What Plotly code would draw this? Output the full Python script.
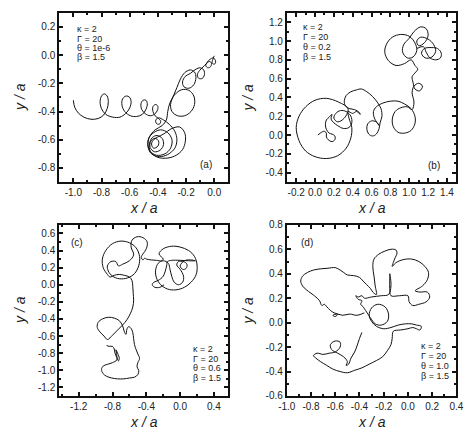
import plotly.graph_objects as go
from plotly.subplots import make_subplots

W, H = 474, 437

# ---------------- data ----------------
traj_a = [(-1.00,-0.32),(-0.99,-0.37),(-0.965,-0.41),(-0.925,-0.44),(-0.875,-0.455),(-0.825,-0.45),(-0.785,-0.425),
(-0.76,-0.38),(-0.752,-0.33),(-0.76,-0.29),(-0.78,-0.275),(-0.80,-0.29),(-0.81,-0.33),(-0.80,-0.38),(-0.77,-0.42),
(-0.72,-0.44),(-0.67,-0.44),(-0.63,-0.415),(-0.60,-0.375),(-0.59,-0.33),(-0.60,-0.30),(-0.625,-0.29),(-0.65,-0.31),
(-0.655,-0.355),(-0.635,-0.40),(-0.595,-0.43),(-0.55,-0.435),(-0.51,-0.42),(-0.485,-0.385),(-0.475,-0.345),(-0.485,-0.32),
(-0.505,-0.32),(-0.52,-0.345),(-0.515,-0.385),(-0.49,-0.415),(-0.455,-0.43),(-0.425,-0.42),(-0.405,-0.395),(-0.40,-0.365),
(-0.415,-0.35),(-0.435,-0.365),(-0.435,-0.40),(-0.42,-0.43),(-0.395,-0.45),(-0.38,-0.47),(-0.39,-0.49),(-0.41,-0.485),
(-0.415,-0.46),(-0.395,-0.445),(-0.36,-0.46),(-0.32,-0.49),(-0.28,-0.54),(-0.265,-0.60),(-0.28,-0.66),(-0.33,-0.705),
(-0.39,-0.72),(-0.445,-0.70),(-0.47,-0.65),(-0.465,-0.59),(-0.43,-0.55),(-0.38,-0.53),(-0.33,-0.55),(-0.30,-0.60),
(-0.31,-0.66),(-0.35,-0.70),(-0.41,-0.71),(-0.455,-0.68),(-0.46,-0.63),(-0.44,-0.585),(-0.405,-0.57),(-0.37,-0.59),
(-0.36,-0.635),(-0.385,-0.675),(-0.425,-0.685),(-0.455,-0.655),(-0.45,-0.61),(-0.42,-0.59),(-0.395,-0.61),(-0.40,-0.645),
(-0.43,-0.66),(-0.445,-0.63),(-0.43,-0.60),(-0.40,-0.58),(-0.36,-0.56),(-0.30,-0.52),(-0.245,-0.51),(-0.21,-0.55),
(-0.205,-0.61),(-0.225,-0.67),(-0.27,-0.71),(-0.33,-0.73),(-0.40,-0.725),(-0.45,-0.69),(-0.47,-0.64),(-0.46,-0.58),
(-0.42,-0.53),(-0.37,-0.50),(-0.34,-0.46),(-0.33,-0.40),(-0.315,-0.34),(-0.28,-0.28),(-0.23,-0.245),(-0.18,-0.25),
(-0.145,-0.29),(-0.14,-0.35),(-0.165,-0.40),(-0.21,-0.43),(-0.26,-0.43),(-0.30,-0.40),(-0.31,-0.35),(-0.29,-0.29),
(-0.265,-0.23),(-0.24,-0.17),(-0.21,-0.125),(-0.17,-0.105),(-0.14,-0.12),(-0.13,-0.16),(-0.145,-0.21),(-0.18,-0.235),
(-0.215,-0.225),(-0.225,-0.19),(-0.205,-0.15),(-0.17,-0.13),(-0.13,-0.10),(-0.10,-0.09),(-0.075,-0.105),(-0.07,-0.14),
(-0.085,-0.165),(-0.11,-0.165),(-0.12,-0.14),(-0.105,-0.11),(-0.08,-0.085),(-0.055,-0.06),(-0.035,-0.045),(-0.02,-0.055),
(-0.025,-0.08),(-0.045,-0.09),(-0.06,-0.075),(-0.05,-0.05),(-0.03,-0.03),(-0.01,-0.02),(0.005,-0.03),(0.01,-0.05),
(0.0,-0.065),(-0.015,-0.055),(-0.01,-0.03),(0.0,-0.005)]

traj_b = [(0.03,0.0),(0.07,0.03),(0.10,0.04),(0.12,0.02),(0.12,-0.02),(0.14,-0.05),(0.18,-0.07),(0.21,-0.05),(0.21,-0.01),
(0.18,0.01),(0.15,0.02),(0.12,0.06),(0.11,0.11),(0.12,0.16),(0.15,0.19),(0.18,0.22),(0.17,0.17),(0.20,0.13),(0.24,0.10),
(0.30,0.07),(0.36,0.08),(0.39,0.13),(0.38,0.20),(0.33,0.25),(0.27,0.26),(0.22,0.23),(0.20,0.18),(0.24,0.14),(0.31,0.18),
(0.35,0.28),(0.25,0.35),(0.12,0.39),(0.0,0.37),(-0.10,0.30),(-0.17,0.20),(-0.20,0.08),(-0.17,-0.06),(-0.10,-0.17),
(0.0,-0.23),(0.12,-0.25),(0.24,-0.22),(0.33,-0.14),(0.38,-0.03),(0.39,0.08),(0.36,0.18),(0.35,0.25),(0.40,0.23),
(0.44,0.25),(0.48,0.22),(0.47,0.24),(0.42,0.27),(0.37,0.28),(0.33,0.30),(0.31,0.35),(0.33,0.42),(0.38,0.46),(0.44,0.48),
(0.49,0.49),(0.55,0.46),(0.61,0.41),(0.66,0.35),(0.70,0.28),(0.71,0.20),(0.69,0.13),(0.68,0.07),(0.65,0.01),(0.61,-0.01),
(0.57,0.01),(0.55,0.06),(0.56,0.12),(0.60,0.15),(0.65,0.14),(0.68,0.10),(0.63,0.18),(0.62,0.25),(0.65,0.30),(0.72,0.34),
(0.80,0.36),(0.88,0.36),(0.95,0.33),(1.02,0.28),(1.06,0.20),(1.06,0.12),(1.02,0.05),(0.95,0.02),(0.88,0.03),(0.83,0.09),
(0.82,0.17),(0.85,0.25),(0.91,0.29),(0.98,0.30),(1.03,0.27),(1.05,0.35),(1.03,0.45),(1.05,0.52),(1.10,0.55),(1.14,0.52),
(1.11,0.47),(1.06,0.49),(1.04,0.56),(1.03,0.62),(1.06,0.66),(1.09,0.70),(1.06,0.74),(1.02,0.80),(0.95,0.76),(0.86,0.74),
(0.78,0.79),(0.74,0.88),(0.76,0.97),(0.82,1.04),(0.91,1.07),(1.00,1.05),(1.06,0.98),(1.08,0.90),(1.04,0.83),(0.98,0.82),
(0.93,0.88),(0.94,0.96),(1.00,1.03),(1.05,1.10),(1.12,1.15),(1.18,1.13),(1.20,1.06),(1.16,0.98),(1.10,0.95),(1.08,1.00),
(1.12,1.04),(1.20,1.02),(1.26,0.96),(1.28,0.89),(1.24,0.83),(1.17,0.82),(1.13,0.87),(1.16,0.92),(1.24,0.93),(1.30,0.92),
(1.34,0.87),(1.33,0.82),(1.28,0.80),(1.22,0.82),(1.18,0.88),(1.15,0.94),(1.08,0.92)]

traj_c = [(-0.87,-0.71),(-0.84,-0.72),(-0.80,-0.72),(-0.78,-0.75),(-0.77,-0.80),(-0.75,-0.85),(-0.73,-0.89),(-0.72,-0.86),
(-0.74,-0.80),(-0.76,-0.76),(-0.75,-0.82),(-0.75,-0.88),(-0.80,-0.91),(-0.86,-0.93),(-0.91,-0.95),(-0.93,-0.99),
(-0.91,-1.04),(-0.87,-1.07),(-0.81,-1.09),(-0.74,-1.10),(-0.67,-1.10),(-0.60,-1.09),(-0.54,-1.08),(-0.50,-1.05),
(-0.49,-1.00),(-0.51,-0.96),(-0.50,-0.91),(-0.48,-0.86),(-0.50,-0.81),(-0.52,-0.76),(-0.54,-0.70),(-0.55,-0.63),
(-0.56,-0.56),(-0.58,-0.51),(-0.61,-0.49),(-0.63,-0.52),(-0.64,-0.58),(-0.66,-0.55),(-0.68,-0.48),(-0.72,-0.42),
(-0.78,-0.39),(-0.85,-0.38),(-0.92,-0.40),(-0.97,-0.44),(-0.98,-0.50),(-0.95,-0.55),(-0.90,-0.60),(-0.86,-0.64),
(-0.80,-0.59),(-0.74,-0.53),(-0.68,-0.47),(-0.63,-0.41),(-0.59,-0.34),(-0.56,-0.26),(-0.55,-0.18),(-0.555,-0.10),
(-0.56,-0.02),(-0.57,0.05),(-0.60,0.09),(-0.66,0.11),(-0.72,0.12),(-0.78,0.11),(-0.83,0.09),(-0.86,0.12),(-0.91,0.20),
(-0.92,0.30),(-0.88,0.40),(-0.80,0.48),(-0.70,0.51),(-0.60,0.49),(-0.52,0.43),(-0.48,0.33),(-0.49,0.22),(-0.54,0.13),
(-0.62,0.08),(-0.72,0.07),(-0.80,0.10),(-0.85,0.16),(-0.86,0.22),(-0.82,0.27),(-0.76,0.27),(-0.73,0.22),(-0.68,0.24),
(-0.60,0.28),(-0.55,0.35),(-0.58,0.44),(-0.57,0.52),(-0.51,0.56),(-0.44,0.55),(-0.39,0.50),(-0.40,0.42),(-0.44,0.36),
(-0.46,0.32),(-0.44,0.29),(-0.42,0.31),(-0.40,0.30),(-0.34,0.29),(-0.28,0.285),(-0.22,0.28),(-0.20,0.30),(-0.25,0.36),
(-0.20,0.42),(-0.10,0.45),(0.0,0.44),(0.10,0.40),(0.17,0.33),(0.20,0.23),(0.19,0.12),(0.13,0.03),(0.05,-0.03),
(-0.05,-0.06),(-0.15,-0.05),(-0.23,0.0),(-0.28,0.08),(-0.29,0.17),(-0.26,0.25),(-0.20,0.28),(-0.14,0.25),(-0.12,0.18),
(-0.10,0.10),(-0.07,0.03),(-0.02,0.0),(0.03,0.03),(0.04,0.10),(0.0,0.18),(-0.04,0.23),(-0.02,0.27),(0.04,0.27),
(0.08,0.24),(0.07,0.19),(0.03,0.18),(0.0,0.22),(0.05,0.28),(0.12,0.29),(0.18,0.28),(0.10,0.28),(0.0,0.285),(-0.10,0.285),
(-0.15,0.27),(-0.16,0.22),(-0.20,0.10),(-0.26,0.05),(-0.31,0.03),(-0.33,0.0),(-0.30,-0.03),(-0.24,-0.03),(-0.19,0.0)]

traj_d = [(-0.36,0.08),(-0.42,0.06),(-0.48,0.07),(-0.54,0.06),(-0.58,0.07),(-0.62,0.06),(-0.60,0.05),(-0.58,0.07),
(-0.61,0.08),(-0.64,0.10),(-0.67,0.13),(-0.69,0.15),(-0.71,0.14),(-0.73,0.18),(-0.76,0.21),(-0.80,0.24),(-0.84,0.27),
(-0.87,0.30),(-0.885,0.34),(-0.87,0.38),(-0.83,0.41),(-0.78,0.43),(-0.72,0.44),(-0.66,0.445),(-0.60,0.45),(-0.56,0.43),
(-0.53,0.41),(-0.50,0.39),(-0.45,0.385),(-0.40,0.37),(-0.37,0.34),(-0.34,0.31),(-0.31,0.28),(-0.29,0.25),(-0.26,0.23),
(-0.27,0.30),(-0.28,0.38),(-0.29,0.46),(-0.28,0.52),(-0.24,0.56),(-0.19,0.585),(-0.14,0.60),(-0.10,0.595),(-0.09,0.57),
(-0.11,0.52),(-0.13,0.46),(-0.10,0.49),(-0.04,0.515),(0.03,0.52),(0.09,0.50),(0.14,0.46),(0.17,0.41),(0.16,0.35),
(0.12,0.30),(0.06,0.26),(0.10,0.25),(0.16,0.25),(0.18,0.21),(0.15,0.17),(0.09,0.15),(0.04,0.14),(0.01,0.17),(0.0,0.22),
(-0.07,0.22),(-0.14,0.22),(-0.15,0.28),(-0.15,0.34),(-0.15,0.40),(-0.14,0.30),(-0.16,0.23),(-0.22,0.22),(-0.30,0.21),
(-0.36,0.20),(-0.38,0.22),(-0.41,0.21),(-0.43,0.22),(-0.41,0.19),(-0.38,0.18),(-0.39,0.15),(-0.37,0.13),(-0.35,0.10),
(-0.33,0.07),(-0.31,0.04),(-0.27,-0.01),(-0.22,-0.02),(-0.17,0.01),(-0.16,0.07),(-0.19,0.13),(-0.25,0.15),(-0.30,0.12),
(-0.32,0.06),(-0.30,0.01),(-0.26,-0.03),(-0.20,-0.05),(-0.14,-0.04),(-0.08,-0.02),(-0.02,-0.01),(0.03,-0.01),(0.07,-0.02),
(0.11,-0.03),(0.10,-0.06),(0.07,-0.05),(0.04,-0.04),(0.0,-0.05),(-0.06,-0.06),(-0.12,-0.07),(-0.13,-0.13),(-0.14,-0.18),
(-0.17,-0.23),(-0.21,-0.28),(-0.26,-0.31),(-0.32,-0.34),(-0.38,-0.37),(-0.44,-0.39),(-0.50,-0.41),(-0.56,-0.40),
(-0.62,-0.38),(-0.67,-0.35),(-0.72,-0.32),(-0.76,-0.29),(-0.78,-0.27),(-0.75,-0.25),(-0.70,-0.26),(-0.65,-0.25),
(-0.60,-0.24),(-0.56,-0.20),(-0.56,-0.16),(-0.60,-0.15),(-0.64,-0.18),(-0.63,-0.22),(-0.58,-0.25),(-0.53,-0.28),
(-0.50,-0.32),(-0.51,-0.35),(-0.49,-0.34),(-0.47,-0.29),(-0.44,-0.24),(-0.42,-0.19),(-0.40,-0.13),(-0.38,-0.08)]

params = [["κ = 2", "Γ = 20", "θ = 1e-6", "β = 1.5"],
          ["κ = 2", "Γ = 20", "θ = 0.2", "β = 1.5"],
          ["κ = 2", "Γ = 20", "θ = 0.6", "β = 1.5"],
          ["κ = 2", "Γ = 20", "θ = 1.0", "β = 1.5"]]
panel_labels = ["(a)", "(b)", "(c)", "(d)"]

x_ranges = [[-1.1, 0.1], [-0.3, 1.5], [-1.43, 0.57], [-1.0, 0.4]]
y_ranges = [[-0.9, 0.3], [-0.5, 1.3], [-1.3, 0.7], [-0.6, 0.8]]
x_ticks = [[-1.0, -0.8, -0.6, -0.4, -0.2, 0.0],
           [-0.2, 0.0, 0.2, 0.4, 0.6, 0.8, 1.0, 1.2, 1.4],
           [-1.2, -0.8, -0.4, 0.0, 0.4],
           [-1.0, -0.8, -0.6, -0.4, -0.2, 0.0, 0.2, 0.4]]
y_ticks = [[-0.8, -0.6, -0.4, -0.2, 0.0, 0.2],
           [-0.4, -0.2, 0.0, 0.2, 0.4, 0.6, 0.8, 1.0, 1.2],
           [-1.2, -1.0, -0.8, -0.6, -0.4, -0.2, 0.0, 0.2, 0.4, 0.6],
           [-0.6, -0.4, -0.2, 0.0, 0.2, 0.4, 0.6, 0.8]]
x_minor_step = [0.1, 0.1, 0.2, 0.1]
y_minor_step = [0.1, 0.1, 0.1, 0.1]
trajs = [traj_a, traj_b, traj_c, traj_d]

# ---------------- layout geometry (pixels) ----------------
col_px = [(52, 227), (287.5, 463)]
row_px = [(7, 181), (225, 401)]
param_pos = [(68, [24, 33.5, 43, 52.5]),
             (302, [22, 32, 42.5, 52]),
             (188, [353, 363, 372.5, 382]),
             (424, [350, 360, 370, 380])]
label_pos = [(204, 163), (440, 164), (70, 243), (308, 243)]

FONT = "Liberation Sans, Arial, sans-serif"
INK = "#111111"


def px(x):
    return x / W


def py(y):
    return 1 - y / H


def minor_vals(rng, step, majors):
    n0 = int(round(rng[0] / step)) - 1
    n1 = int(round(rng[1] / step)) + 1
    out = []
    for k in range(n0, n1 + 1):
        v = round(k * step, 6)
        if rng[0] <= v <= rng[1] and all(abs(v - m) > 1e-6 for m in majors):
            out.append(v)
    return out


fig = make_subplots(rows=2, cols=2)
annotations = []
for i in range(4):
    r, c = divmod(i, 2)
    xs = [p[0] for p in trajs[i]]
    ys = [p[1] for p in trajs[i]]
    fig.add_trace(go.Scatter(x=xs, y=ys, mode="lines",
                             line=dict(color=INK, width=1, shape="spline", smoothing=1.0),
                             showlegend=False, hoverinfo="skip"), row=r + 1, col=c + 1)
    common = dict(showline=True, linecolor=INK, linewidth=2, mirror="allticks",
                  ticks="inside", ticklen=4, tickwidth=1.5, tickcolor=INK,
                  showgrid=False, zeroline=False, tickmode="array",
                  tickfont=dict(family=FONT, size=10, color="#222222"))
    fig.update_xaxes(range=x_ranges[i], domain=[px(col_px[c][0]), px(col_px[c][1])],
                     tickvals=x_ticks[i], ticktext=[f"{v:.1f}" for v in x_ticks[i]],
                     minor=dict(ticks="inside", ticklen=2, tickwidth=1.5, tickmode="array",
                                tickvals=minor_vals(x_ranges[i], x_minor_step[i], x_ticks[i]),
                                tickcolor=INK, showgrid=False),
                     **common, row=r + 1, col=c + 1)
    fig.update_yaxes(range=y_ranges[i], domain=[py(row_px[r][1]), py(row_px[r][0])],
                     tickvals=y_ticks[i], ticktext=[f"{v:.1f}" for v in y_ticks[i]],
                     minor=dict(ticks="inside", ticklen=2, tickwidth=1.5, tickmode="array",
                                tickvals=minor_vals(y_ranges[i], y_minor_step[i], y_ticks[i]),
                                tickcolor=INK, showgrid=False),
                     **common, row=r + 1, col=c + 1)
    xc = (col_px[c][0] + col_px[c][1]) / 2
    yc = (row_px[r][0] + row_px[r][1]) / 2
    annotations.append(dict(x=px(xc), y=py(row_px[r][1] + 27), xref="paper", yref="paper",
                            text="<i>x / a</i>", showarrow=False, xanchor="center", yanchor="middle",
                            font=dict(family=FONT, size=14, color="#222222")))
    annotations.append(dict(x=px(col_px[c][0] - 40), y=py(yc), xref="paper", yref="paper",
                            text="<i>y / a</i>", showarrow=False, xanchor="center", yanchor="middle",
                            textangle=-90, font=dict(family=FONT, size=14, color="#222222")))
    lx, lys = param_pos[i]
    for t, ly in zip(params[i], lys):
        annotations.append(dict(x=px(lx), y=py(ly), xref="paper", yref="paper", text=t,
                                showarrow=False, xanchor="left", yanchor="middle",
                                font=dict(family=FONT, size=9, color="#222222")))
    annotations.append(dict(x=px(label_pos[i][0]), y=py(label_pos[i][1]), xref="paper", yref="paper",
                            text=panel_labels[i], showarrow=False, xanchor="center", yanchor="middle",
                            font=dict(family=FONT, size=10, color="#222222")))

fig.update_layout(width=W, height=H, margin=dict(l=0, r=0, t=0, b=0),
                  paper_bgcolor="white", plot_bgcolor="white",
                  annotations=annotations, showlegend=False)
fig.write_html("out.html", config={"displayModeBar": False},
               post_script="document.body.style.margin='0';document.body.style.overflow='hidden';")
